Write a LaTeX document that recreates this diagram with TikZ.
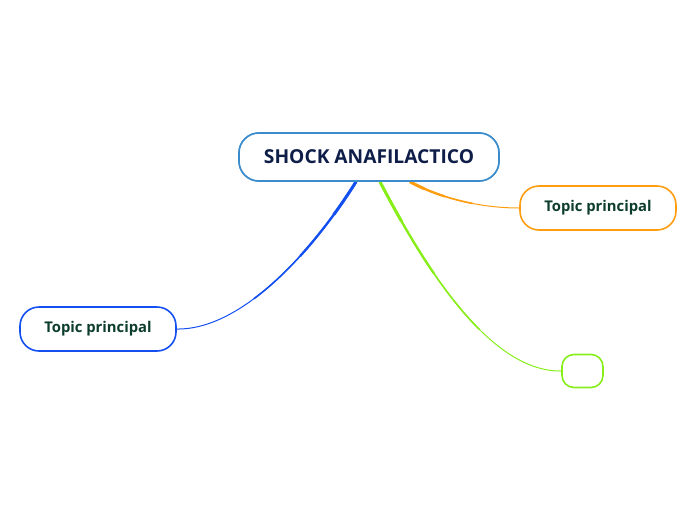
\documentclass[tikz,border=0pt]{standalone}
\usepackage{fontspec}
\setmainfont{Open Sans}
\usetikzlibrary{positioning, calc}

\definecolor{rootline}{HTML}{3A8CCC}
\definecolor{roottext}{HTML}{0E1E48}
\definecolor{topictext}{HTML}{0D3D2D}
\definecolor{bluebranch}{HTML}{1450F0}
\definecolor{orangebranch}{HTML}{FF9D10}
\definecolor{greenbranch}{HTML}{88EE1A}

\tikzset{
  root/.style={draw=rootline, line width=1.6pt, rounded corners=20pt, fill=white,
    minimum width=260pt, minimum height=48pt, inner sep=0pt,
    font=\fontsize{19.2}{21}\selectfont\bfseries, text=roottext},
  topic/.style={draw=#1, line width=1.6pt, rounded corners=19pt, fill=white,
    minimum width=156pt, minimum height=44pt, inner sep=0pt,
    font=\fontsize{14.8}{16}\selectfont\bfseries, text=topictext},
  empty/.style={draw=#1, line width=1.6pt, rounded corners=12pt, fill=white,
    minimum width=41pt, minimum height=33pt, inner sep=0pt}
}

% branch: colour, start, control 1, control 2, end (thick at the start)
\newcommand{\branch}[5]{%
  \draw[#1, line width=1pt] (#2) .. controls (#3) and (#4) .. (#5);
  \foreach \t/\w in {0.6/1.6, 0.35/2.3, 0.15/3}{
    \coordinate (q1) at ($(#2)!\t!(#3)$);
    \coordinate (qm) at ($(#3)!\t!(#4)$);
    \coordinate (qn) at ($(#4)!\t!(#5)$);
    \coordinate (q2) at ($(q1)!\t!(qm)$);
    \coordinate (q3) at ($(qm)!\t!(qn)$);
    \coordinate (q4) at ($(q2)!\t!(q3)$);
    \draw[#1, line width=\w pt] (#2) .. controls (q1) and (q2) .. (q4);
  }
}

\begin{document}
\begin{tikzpicture}[x=1pt, y=-1pt]
  \useasboundingbox (0,0) rectangle (696,520);

  \node[root] (shock) at (369,157) {SHOCK ANAFILACTICO};
  \node[topic=bluebranch] (left) at (98,329) {Topic principal};
  \node[topic=orangebranch] (right) at (598,208) {Topic principal};
  \node[empty=greenbranch] (sub) at (582.5,371) {};

  % start points on the bottom of the root
  \coordinate (bstart) at ($(shock.south)+(-13,0)$);
  \coordinate (gstart) at ($(shock.south)+(11,0)$);
  \coordinate (ostart) at ($(shock.south)+(41,0)$);

  \branch{bluebranch}{bstart}{310,255}{240,330}{left.east}
  \branch{greenbranch}{gstart}{425,268}{490,372}{sub.west}
  \branch{orangebranch}{ostart}{440,198}{480,208}{right.west}

  % redraw root on top of the branch ends
  \node[root] at (shock) {SHOCK ANAFILACTICO};
\end{tikzpicture}
\end{document}
